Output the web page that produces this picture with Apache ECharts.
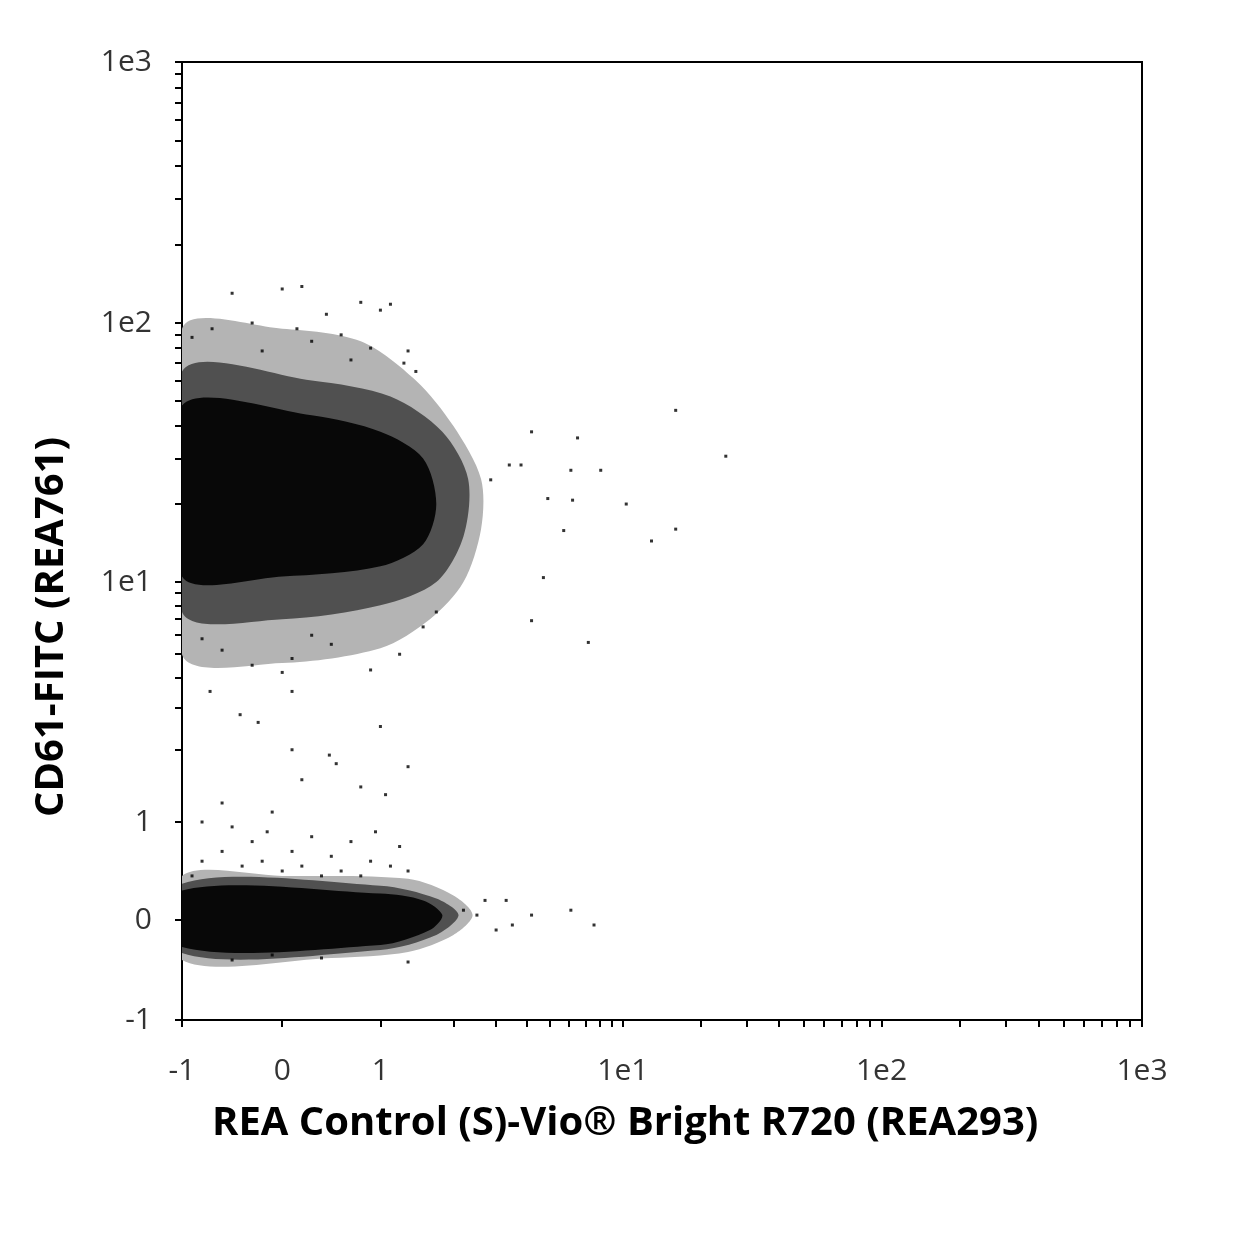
<!DOCTYPE html><html><head><meta charset="utf-8">
<script src="https://cdn.jsdelivr.net/npm/echarts@6/dist/echarts.min.js"></script>
<style>html,body{margin:0;background:#fff}#c{width:1250px;height:1250px}</style></head><body><div id="c"></div>
<script>
// axis anchor values (biexponential-like display) and their display positions
const anchorVals = [-1, 0, 1, 10, 100, 1000];
const xAnchorPos = [0, 100, 198, 440, 698, 958];
const yAnchorPos = [0, 100, 198, 438, 697, 958];
const tickLabels = ['-1', '0', '1', '1e1', '1e2', '1e3'];
// density contours, as [x, y] outline vertices; level 1 sparse .. 3 solid
const upperOuter = [[-1,5],[0,4.6],[1,5.3],[1.6,7],[2.2,10],[2.6,16],[2.6,25],[2.0,40],[1.4,60],[0.8,85],[0,95],[-1,95]];
const upperMid = [[-1,7.5],[0,7],[1,8],[1.7,10],[2.2,15],[2.3,25],[1.8,38],[1.1,52],[0.3,60],[-1,65]];
const upperCore = [[-1,10.5],[0,10.5],[1,11.5],[1.5,14],[1.7,20],[1.5,30],[1.0,38],[0.3,44],[-1,48]];
const lowerOuter = [[-1,-0.4],[0.5,-0.38],[1.3,-0.32],[2.0,-0.15],[2.4,0.05],[2.0,0.25],[1.3,0.42],[0,0.45],[-1,0.45]];
const lowerMid = [[-1,-0.33],[1,-0.3],[1.7,-0.15],[2.1,0.05],[1.7,0.22],[1,0.35],[-1,0.37]];
const lowerCore = [[-1,-0.27],[1,-0.25],[1.6,-0.1],[1.8,0.05],[1.5,0.2],[1,0.27],[-1,0.3]];
const contours = [[upperOuter,1],[upperMid,2],[upperCore,3],[lowerOuter,1],[lowerMid,2],[lowerCore,3]];
// sparse individual events: [x, y]
const sparsePoints = [
  [2.85,24.8],[3.4,28.3],[3.8,28.3],[4.2,38],[6.5,36],[16,46],[25,30.6],[6.1,27],[8.1,27],[4.9,21],
  [6.2,20.7],[10.3,20],[16,16],[12.9,14.4],[5.7,15.8],[4.7,10.4],[4.2,6.9],[7.2,5.6],
  [-0.72,3.5],[-0.42,2.8],[-0.24,2.6],[0.1,2.0],[0.48,1.9],[0.1,3.5],[0.2,1.5],[0.8,1.4],[-0.6,1.2],
  [1.0,2.5],[1.3,1.7],[0.55,1.75],[-0.1,1.1],[1.05,1.3],[-0.8,1.0],
  [-0.5,0.95],[-0.3,0.8],[-0.15,0.9],[0.1,0.7],[0.3,0.85],[0.5,0.65],[0.7,0.8],[0.9,0.6],[-0.8,0.6],
  [-0.6,0.7],[-0.4,0.55],[0.0,0.5],[0.2,0.55],[0.6,0.5],[1.1,0.55],[1.3,0.5],[-0.9,0.45],[0.4,0.45],
  [0.8,0.45],[-0.2,0.6],[1.2,0.75],[0.95,0.9],
  [2.2,0.1],[2.5,0.05],[2.7,0.2],[3.3,0.2],[3.5,-0.05],[4.2,0.05],[6.1,0.1],[7.6,-0.05],[3.0,-0.1],
  [-0.5,130],[0.0,135],[0.2,138],[0.8,120],[1.1,118],[0.45,108],[-0.7,95],[-0.3,100],[0.15,95],[0.6,90],
  [1.0,112],[-0.9,88],[0.3,85],[0.9,80],[1.25,70],[-0.2,78],[0.7,72],[1.4,65],[1.3,78],
  [-0.6,5.2],[-0.3,4.5],[0.1,4.8],[0.5,5.5],[0.9,4.3],[1.2,5],[0.3,6],[1.5,6.5],[-0.8,5.8],[1.7,7.5],[0.0,4.2],
  [-0.5,-0.4],[0.4,-0.38],[1.3,-0.42],[-0.1,-0.35]
];

function makeScale(pos) {
  return function (v) {
    if (v <= 1) {
      const i = v <= 0 ? 0 : 1;
      return pos[i] + (v - anchorVals[i]) * (pos[i + 1] - pos[i]) / (anchorVals[i + 1] - anchorVals[i]);
    }
    const l = Math.log10(v);
    const d = Math.min(2, Math.floor(l));
    return pos[2 + d] + (l - d) * (pos[3 + d] - pos[2 + d]);
  };
}
const fx = makeScale(xAnchorPos), fy = makeScale(yAnchorPos);
function minorVals() {
  const out = [];
  [1, 10, 100].forEach(b => { for (let k = 2; k <= 9; k++) out.push(b * k); });
  return out;
}
const xTicks = anchorVals.concat(minorVals()).map(fx);
const yTicks = anchorVals.concat(minorVals()).map(fy);
const levelColor = {1: '#b4b4b4', 2: '#505050', 3: '#080808'};
const contourData = contours.map((c, i) => [i, c[1]]);
function labelFor(pos, arr) {
  let best = 0;
  arr.forEach((p, i) => { if (Math.abs(p - pos) < Math.abs(arr[best] - pos)) best = i; });
  return tickLabels[best];
}
const font = 'Open Sans';
const chart = echarts.init(document.getElementById('c'));
chart.setOption({
  animation: false,
  grid: {left: 182, right: 108, top: 62, bottom: 230, show: true, borderColor: '#000', borderWidth: 2, backgroundColor: '#fff'},
  xAxis: {type: 'value', min: 0, max: 958, splitLine: {show: false},
    axisLine: {lineStyle: {color: '#000', width: 2}},
    axisTick: {customValues: xTicks, length: 7, lineStyle: {color: '#000', width: 2}},
    axisLabel: {customValues: xAnchorPos, formatter: v => labelFor(v, xAnchorPos), fontSize: 30, color: '#333', fontFamily: font, margin: 36}},
  yAxis: {type: 'value', min: 0, max: 958, splitLine: {show: false},
    axisLine: {lineStyle: {color: '#000', width: 2}},
    axisTick: {customValues: yTicks, length: 7, lineStyle: {color: '#000', width: 2}},
    axisLabel: {customValues: yAnchorPos, formatter: v => labelFor(v, yAnchorPos), fontSize: 30, color: '#333', fontFamily: font, margin: 30}},
  graphic: [
    {type: 'text', left: 212, top: 1104, style: {text: 'REA Control (S)-Vio® Bright R720 (REA293)', fontSize: 40, fontWeight: 'bold', fontFamily: font, fill: '#000'}},
    {type: 'text', x: 32, y: 817, rotation: Math.PI / 2, style: {text: 'CD61-FITC (REA761)', fontSize: 40, fontWeight: 'bold', fontFamily: font, fill: '#000'}}
  ],
  series: [
    {type: 'custom', data: contourData, clip: true,
      renderItem: (params, api) => {
        const c = contours[api.value(0)][0];
        const pts = c.map(p => api.coord([fx(p[0]), fy(p[1])]));
        return {type: 'polygon', shape: {points: pts, smooth: 0.3},
          style: {fill: levelColor[api.value(1)]}};
      }},
    {type: 'scatter', symbol: 'rect', symbolSize: 3, itemStyle: {color: '#000'},
      data: sparsePoints.map(p => [fx(p[0]), fy(p[1])])}
  ]
});
</script></body></html>
